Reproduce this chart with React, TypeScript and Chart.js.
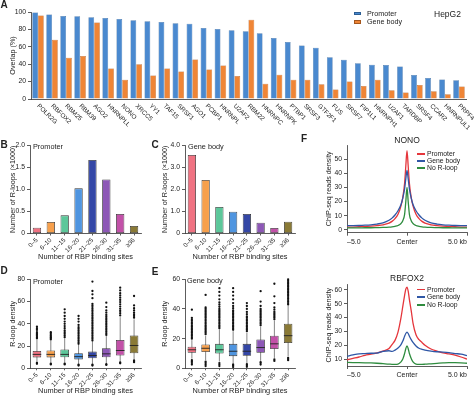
import React, { useEffect, useRef } from 'react';
import { Chart, registerables } from 'chart.js';

Chart.register(...registerables);

const FONT = '"Liberation Sans", Arial, Helvetica, sans-serif';
const INK = '#222222';
const AXIS = '#333333';
Chart.defaults.font.family = FONT;
Chart.defaults.color = INK;

// ---------- Panel A ----------
const rbpNames = ['POLR2G', 'RBFOX2', 'RBM25', 'RBM39', 'AGO2', 'HNRNPLL', 'NONO', 'XRCC5', 'YY1', 'TAF15', 'SRSF1', 'AGO1', 'PCBP1', 'HNRNPL', 'U2AF2', 'RBM22', 'HNRNPC', 'HNRNPK', 'PTBP1', 'SRSF3', 'GTF2F1', 'FUS', 'SRSF7', 'FIP1L1', 'HNRNPH1', 'U2AF1', 'TARDBP', 'SRSF4', 'CCAR2', 'HNRNPUL1', 'PRPF4'];
const overlapPromoter = [99.5, 97, 95.5, 95, 94, 93, 92, 90.5, 89.5, 88.5, 87, 86.5, 81.5, 80.5, 79, 78, 75.5, 70, 65.5, 61.5, 59, 48, 45, 41, 39.5, 39, 37.5, 27.5, 24, 22.5, 21.5];
const overlapGeneBody = [96, 68, 47.5, 49.5, 88, 35, 22, 40, 27, 35, 31.5, 45.5, 34, 38.5, 26.5, 91, 17.5, 28, 22, 22, 17, 11, 20, 15, 22, 10, 7.5, 16, 9, 5.5, 14.5];
const overlapTicks = [0, 20, 40, 60, 80, 100];

// ---------- Panels B/C ----------
const siteBins = ['0–5', '6–10', '11–15', '16–20', '21–25', '26–30', '31–35', '≥36'];
const rloopPromoter = [0.13, 0.26, 0.41, 1.02, 1.66, 1.22, 0.44, 0.17];
const rloopGeneBody = [3.55, 2.42, 1.2, 0.98, 0.88, 0.49, 0.25, 0.53];
const binColors = ['#f07282', '#f7a04c', '#5cc79a', '#4f95e0', '#3447a6', '#8d58b6', '#c251a8', '#8a7a36'];

// ---------- Panel D (promoter density boxes) ----------
const promQ1 = [9.8, 9.8, 10, 8, 9, 10, 11.5, 13.5];
const promMedian = [12.5, 12.5, 12.5, 10.5, 11.5, 13, 16, 20.5];
const promQ3 = [15.5, 16, 17, 13.5, 15, 18, 25.5, 29.5];
const promWhiskerLow = [5.5, 5, 5, 4, 4, 4.5, 6, 8];
const promWhiskerHigh = [26, 25, 27, 21, 24, 29, 46, 44];
const promOutliers = [
  [4, 4.8, 27, 28, 29, 30, 31, 32.5, 34.5, 36, 37.5],
  [3.5, 4.2, 26, 27, 28, 29, 30, 31.5, 32.5],
  [3.5, 4.2, 28, 29.5, 31, 32.5, 34, 36, 38, 40, 42, 44.5, 47, 50, 53],
  [2.5, 3.2, 22, 23.5, 25, 26.5, 28, 29.5, 31, 32.5, 34, 35.5, 37, 39, 42, 44.5, 47],
  [2.5, 3.2, 25, 26.5, 28, 29.5, 31, 32.5, 34, 35.5, 37, 38.5, 40, 41.5, 43, 44.5, 46, 47.5, 49, 50.5, 52, 53.5, 55, 56.5, 58, 63, 66.5, 69.5, 78],
  [3, 3.7, 30, 31.5, 33, 34.5, 36, 37.5, 39, 40.5, 42, 43.5, 45, 46.5, 48, 50, 52, 55, 59],
  [4.5, 5.2, 47.5, 49.5, 51.5, 53.5, 55.5, 57.5, 59.5, 61.5, 63.5, 65.5, 67.5, 70, 72.5],
  [5.5, 6.3, 7, 45.5, 47, 48.5, 50, 52, 54, 56.5, 65],
];

// ---------- Panel E (gene body density boxes) ----------
const geneQ1 = [10.5, 11, 10, 8.2, 8.5, 10.5, 13, 17];
const geneMedian = [12.5, 13.5, 12.5, 11.5, 11.5, 14, 16.5, 22];
const geneQ3 = [14.5, 16, 16.5, 16.5, 16.5, 19.5, 22, 30];
const geneWhiskerLow = [6.5, 5.5, 4.5, 3.5, 3.5, 5, 7, 8];
const geneWhiskerHigh = [19, 22, 26, 25, 24, 28, 32, 42];
const geneOutliers = [
  [2.5, 3.5, 4.5, 5.5, 20, 21, 22, 23, 24, 25, 26, 27, 28, 29, 30, 31, 32, 33, 34, 39.5],
  [1.5, 2.5, 3.5, 4.5, 23, 24, 25, 26, 27, 28, 29, 30, 31, 32, 33, 34, 35, 36, 37, 38, 39, 40, 41, 49.5],
  [1.5, 2.5, 3.5, 27, 28, 29, 30, 31, 32, 33, 34, 35, 36, 37, 38, 39, 40, 41.5, 43, 44.5, 46.5, 49, 51.5, 54],
  [0.8, 1.8, 2.6, 26, 27, 28, 29, 30, 31, 32, 33, 34, 35, 36, 37, 38, 39, 40.5, 42, 44, 46.5, 49, 51.5, 54],
  [1, 2, 2.8, 25, 26, 27, 28, 29, 30, 31, 32, 33, 34, 35, 36.5, 38, 40, 42, 44],
  [2.5, 3.5, 4.2, 29, 30, 31, 32, 33, 34, 35, 36, 37, 38, 39, 40, 42, 45, 52],
  [5, 6, 33, 34, 35, 36, 37, 38, 39.5, 41, 44, 48.5, 57],
  [5.5, 6.2, 7, 43, 44, 45, 46, 47, 48, 49, 50, 51, 52, 53, 54, 55, 56, 57, 58, 59, 60],
];

// ---------- Panel F (ChIP-seq profiles) ----------
const profileX = [-5, -4.5, -4, -3.5, -3, -2.5, -2, -1.5, -1.25, -1, -0.75, -0.5, -0.35, -0.2, -0.1, 0, 0.1, 0.2, 0.35, 0.5, 0.75, 1, 1.25, 1.5, 2, 2.5, 3, 3.5, 4, 4.5, 5];
const nonoPromoter = [2, 2, 2.2, 2.3, 2.6, 3, 3.6, 4.8, 6, 8, 11, 17, 23, 33, 45, 56, 45, 33, 23, 17, 11, 8, 6, 4.8, 3.6, 3, 2.6, 2.3, 2.2, 2, 2];
const nonoGeneBody = [3, 3, 3.1, 3.3, 3.6, 4.1, 5, 6.8, 8.3, 10.5, 13.5, 18, 22.5, 29, 36, 42, 36, 29, 22.5, 18, 13.5, 10.5, 8.3, 6.8, 5, 4.1, 3.6, 3.3, 3.1, 3, 3];
const nonoNoRloop = [1.4, 1.4, 1.4, 1.5, 1.5, 1.6, 1.7, 1.9, 2.1, 2.5, 3.1, 4.5, 6.5, 11, 20, 30, 20, 11, 6.5, 4.5, 3.1, 2.5, 2.1, 1.9, 1.7, 1.6, 1.5, 1.5, 1.4, 1.4, 1.4];
const rbfoxPromoter = [9.5, 10.5, 11.5, 12.7, 13.5, 14.5, 15.7, 17.6, 20.5, 23.5, 29.5, 40, 48, 56, 60.5, 62, 59, 53, 45, 36, 27.5, 24, 22, 20, 17.3, 15.8, 14.5, 13.7, 12.8, 11.5, 10];
const rbfoxGeneBody = [12, 13, 13.8, 14, 14.2, 14.3, 15.5, 16, 15.5, 16.5, 18, 20.5, 23, 26.5, 28.5, 29.5, 28.5, 26.5, 24, 22, 19.5, 17.8, 17, 16.5, 15.8, 15.3, 15, 14.6, 14, 13.6, 12.5];
const rbfoxNoRloop = [7.6, 7.5, 7.4, 7.3, 7.2, 7, 6.7, 6.4, 6.2, 6.2, 6.4, 8, 10, 14, 17.5, 19.5, 17.5, 14, 10.5, 8, 6.4, 6.2, 6.2, 6.3, 6.6, 6.9, 7.2, 7.4, 7.4, 7.3, 7];
const nonoTicks = [0, 10, 20, 30, 40, 50];
const rbfoxTicks = [10, 20, 30, 40, 50, 60];

const BLUE = '#4a89cf';
const ORANGE = '#ef8536';
const RED = '#e5363c';
const NAVY = '#2f57a6';
const GREEN = '#2f8c3f';

// ---------- helpers ----------
const tickFont = { family: FONT, size: 6.8 };

const yAxis = (extra: any, title: string, titlePad: number, width: number) => ({
  border: { display: true, color: AXIS, width: 0.8 },
  grid: { display: true, drawOnChartArea: false, drawTicks: true, tickLength: 3, color: AXIS, lineWidth: 0.8 },
  ticks: { color: INK, font: tickFont, padding: 2 },
  title: { display: true, text: title, color: INK, font: { family: FONT, size: 7.2 }, padding: { top: titlePad, bottom: 0 } },
  afterFit: (s: any) => { s.width = width; },
  ...extra,
});

const catXAxis = (title: string | null, height: number, titlePadBottom: number) => ({
  border: { display: true, color: AXIS, width: 0.8 },
  grid: { display: true, drawOnChartArea: false, drawTicks: true, tickLength: 2, offset: false, color: AXIS, lineWidth: 0.8 },
  ticks: { color: INK, font: { family: FONT, size: 6.3 }, minRotation: 45, maxRotation: 45, padding: 1, autoSkip: false },
  title: title
    ? { display: true, text: title, color: INK, font: { family: FONT, size: 7.4 }, padding: { top: 0, bottom: titlePadBottom } }
    : { display: false },
  afterFit: (s: any) => { s.height = height; },
});

const rotatedLabelsPlugin = {
  id: 'rotatedLabels',
  afterDraw(chart: any) {
    const xs = chart.scales.x;
    const labels: string[] = chart.data.labels;
    const ctx = chart.ctx;
    ctx.save();
    ctx.fillStyle = INK;
    ctx.font = `6.3px ${FONT}`;
    ctx.textAlign = 'left';
    ctx.textBaseline = 'middle';
    labels.forEach((lab, i) => {
      const x = xs.getPixelForValue(i);
      ctx.save();
      ctx.translate(x, chart.chartArea.bottom + 6);
      ctx.rotate(Math.PI / 4);
      ctx.fillText(lab, 0, 0);
      ctx.restore();
    });
    ctx.restore();
  },
};

function boxWhiskerPlugin(median: number[], low: number[], high: number[]) {
  return {
    id: 'boxWhisker',
    beforeDatasetsDraw(chart: any) {
      const { ctx } = chart;
      const xs = chart.scales.x;
      const ys = chart.scales.y;
      ctx.save();
      ctx.strokeStyle = '#666';
      ctx.lineWidth = 0.8;
      low.forEach((l, i) => {
        const x = xs.getPixelForValue(i);
        ctx.beginPath();
        ctx.moveTo(x, ys.getPixelForValue(l));
        ctx.lineTo(x, ys.getPixelForValue(high[i]));
        ctx.stroke();
      });
      ctx.restore();
    },
    afterDatasetsDraw(chart: any) {
      const { ctx } = chart;
      const ys = chart.scales.y;
      const meta = chart.getDatasetMeta(0);
      ctx.save();
      ctx.strokeStyle = '#222';
      ctx.lineWidth = 0.9;
      meta.data.forEach((el: any, i: number) => {
        const { x, width } = el.getProps(['x', 'width'], true);
        const y = ys.getPixelForValue(median[i]);
        ctx.beginPath();
        ctx.moveTo(x - width / 2, y);
        ctx.lineTo(x + width / 2, y);
        ctx.stroke();
      });
      ctx.restore();
    },
  };
}

const baseOptions = (padding: any) => ({
  responsive: false,
  animation: false as const,
  devicePixelRatio: 1,
  layout: { padding },
  plugins: { legend: { display: false }, tooltip: { enabled: false }, title: { display: false } },
});

// ---------- chart configs ----------
function makeA(): any {
  return {
    type: 'bar',
    data: {
      labels: rbpNames,
      datasets: [
        { label: 'Promoter', data: overlapPromoter, backgroundColor: BLUE, borderColor: '#2c5e94', borderWidth: 0.5 },
        { label: 'Gene body', data: overlapGeneBody, backgroundColor: ORANGE, borderColor: '#a4561c', borderWidth: 0.5 },
      ],
    },
    options: {
      ...baseOptions({ left: 0, top: 12, right: 8, bottom: 0 }),
      datasets: { bar: { categoryPercentage: 0.82, barPercentage: 1 } },
      scales: {
        x: {
          border: { display: true, color: AXIS, width: 0.8 },
          grid: { display: false },
          ticks: { display: false },
          afterFit: (s: any) => { s.height = 33; },
        },
        y: yAxis({
          min: 0, max: 100,
          afterBuildTicks: (s: any) => { s.ticks = overlapTicks.map((v) => ({ value: v })); },
        }, 'Overlap (%)', 8.6, 31),
      },
    },
    plugins: [rotatedLabelsPlugin],
  };
}

function makeCount(values: number[], max: number, step: number, yWidth: number, yPad: number): any {
  const ticks: number[] = [];
  for (let v = 0; v <= max + 1e-9; v += step) ticks.push(Math.round(v * 10) / 10);
  return {
    type: 'bar',
    data: {
      labels: siteBins,
      datasets: [{ data: values, backgroundColor: binColors, borderColor: '#333', borderWidth: 0.8, borderSkipped: false }],
    },
    options: {
      ...baseOptions({ left: 0, top: 10, right: yWidth === 30 ? 9 : 10, bottom: 0 }),
      datasets: { bar: { categoryPercentage: 1, barPercentage: 0.6 } },
      scales: {
        x: catXAxis('Number of RBP binding sites', 28.5, 0.6),
        y: yAxis({
          min: 0, max,
          afterBuildTicks: (s: any) => { s.ticks = ticks.map((v) => ({ value: v })); },
          ticks: { color: INK, font: tickFont, padding: 2, callback: (v: any) => (v === 0 ? '0' : Number(v).toFixed(1)) },
        }, 'Number of R-loops (×1000)', yPad, yWidth),
      },
    },
  };
}

function makeBox(q1: number[], med: number[], q3: number[], lo: number[], hi: number[], outliers: number[][], max: number, yWidth: number, yPad: number): any {
  const ticks: number[] = [];
  for (let v = 0; v <= max; v += 20) ticks.push(v);
  const outlierPoints: any[] = [];
  outliers.forEach((list, i) => list.forEach((y) => outlierPoints.push({ x: siteBins[i], y })));
  return {
    type: 'bar',
    data: {
      labels: siteBins,
      datasets: [
        {
          type: 'bar',
          data: q1.map((a, i) => [a, q3[i]]),
          backgroundColor: binColors,
          borderColor: '#333',
          borderWidth: 0.8,
          borderSkipped: false,
          order: 2,
        },
        {
          type: 'line',
          data: outlierPoints,
          showLine: false,
          pointRadius: 1.15,
          pointBorderWidth: 0,
          pointBackgroundColor: '#111',
          borderColor: '#111',
          clip: false,
          order: 1,
        },
      ],
    },
    options: {
      ...baseOptions({ left: 0, top: 17.3, right: yWidth === 30 ? 9 : 10, bottom: 0 }),
      datasets: { bar: { categoryPercentage: 1, barPercentage: 0.62 } },
      scales: {
        x: catXAxis('Number of RBP binding sites', 27.7, 0.2),
        y: yAxis({
          min: 0, max,
          afterBuildTicks: (s: any) => { s.ticks = ticks.map((v) => ({ value: v })); },
        }, 'R-loop density', yPad, yWidth),
      },
    },
    plugins: [boxWhiskerPlugin(med, lo, hi)],
  };
}

function makeProfile(series: number[][], yMin: number, yMax: number, yTicks: number[], topPad: number, xHeight: number): any {
  const colors = [RED, NAVY, GREEN];
  const names = ['Promoter', 'Gene body', 'No R-loop'];
  return {
    type: 'line',
    data: {
      datasets: series.map((vals, k) => ({
        label: names[k],
        data: profileX.map((x, i) => ({ x, y: vals[i] })),
        borderColor: colors[k],
        borderWidth: 1.3,
        pointRadius: 0,
        cubicInterpolationMode: 'monotone',
        fill: false,
        order: 3 - k,
      })),
    },
    options: {
      ...baseOptions({ left: 0, top: topPad, right: 7, bottom: 0 }),
      scales: {
        x: {
          type: 'linear',
          min: -5, max: 5,
          border: { display: true, color: AXIS, width: 0.8 },
          grid: { display: true, drawOnChartArea: false, drawTicks: true, tickLength: 3, color: AXIS, lineWidth: 0.8 },
          afterBuildTicks: (s: any) => { s.ticks = [{ value: -5 }, { value: 0 }, { value: 5 }]; },
          ticks: {
            color: INK, font: { family: FONT, size: 7 }, padding: 2, align: 'inner', maxRotation: 0,
            callback: (v: any) => (v === 0 ? 'Center' : v > 0 ? '5.0 kb' : '–5.0'),
          },
          afterFit: (s: any) => { s.height = xHeight; },
        },
        y: yAxis({
          min: yMin, max: yMax,
          afterBuildTicks: (s: any) => { s.ticks = yTicks.map((v) => ({ value: v })); },
        }, 'ChIP-seq reads density', 19.9, 42),
      },
    },
  };
}

// ---------- components ----------
function ChartPanel({ left, top, width, height, make }: { left: number; top: number; width: number; height: number; make: () => any }) {
  const ref = useRef<HTMLCanvasElement | null>(null);
  useEffect(() => {
    const chart = new Chart(ref.current as HTMLCanvasElement, make());
    return () => chart.destroy();
  }, []);
  return (
    <canvas
      ref={ref}
      width={width}
      height={height}
      style={{ position: 'absolute', left, top, width, height, display: 'block' }}
    />
  );
}

function Txt({ x, y, size, bold, center, children }: { x: number; y: number; size: number; bold?: boolean; center?: boolean; children: React.ReactNode }) {
  return (
    <div
      style={{
        position: 'absolute', left: x, top: y, fontSize: size, lineHeight: 1, whiteSpace: 'nowrap',
        fontWeight: bold ? 'bold' : 'normal', color: INK, fontFamily: FONT,
        transform: center ? 'translate(-50%, -50%)' : 'translateY(-50%)',
      }}
    >
      {children}
    </div>
  );
}

function Swatch({ x, y, w, h, color, border }: { x: number; y: number; w: number; h: number; color: string; border?: string }) {
  return (
    <div style={{ position: 'absolute', left: x, top: y - h / 2, width: w, height: h, background: color, boxSizing: 'border-box', border: border ? `0.5px solid ${border}` : 'none' }} />
  );
}

function ProfileLegend({ x, y, gap }: { x: number; y: number; gap: number }) {
  const items = [['Promoter', RED], ['Gene body', NAVY], ['No R-loop', GREEN]];
  return (
    <>
      {items.map(([name, c], i) => (
        <React.Fragment key={name}>
          <Swatch x={x} y={y + i * gap} w={8} h={1.6} color={c} />
          <Txt x={x + 10} y={y + i * gap} size={6.8}>{name}</Txt>
        </React.Fragment>
      ))}
    </>
  );
}

export default function App() {
  return (
    <div style={{ position: 'fixed', left: 0, top: 0, width: 474, height: 396, background: '#fff', overflow: 'hidden', fontFamily: FONT }}>
      <ChartPanel left={0} top={0} width={474} height={132} make={makeA} />
      <ChartPanel left={0} top={135} width={150} height={127} make={() => makeCount(rloopPromoter, 2, 0.5, 30, 8.9)} />
      <ChartPanel left={150} top={135} width={155} height={127} make={() => makeCount(rloopGeneBody, 4, 1, 35, 10.9)} />
      <ChartPanel left={0} top={262} width={150} height={134} make={() => makeBox(promQ1, promMedian, promQ3, promWhiskerLow, promWhiskerHigh, promOutliers, 80, 30, 9.2)} />
      <ChartPanel left={150} top={262} width={155} height={134} make={() => makeBox(geneQ1, geneMedian, geneQ3, geneWhiskerLow, geneWhiskerHigh, geneOutliers, 60, 35, 10.9)} />
      <ChartPanel left={305} top={132} width={169} height={118} make={() => makeProfile([nonoPromoter, nonoGeneBody, nonoNoRloop], -2, 60, nonoTicks, 13, 17.3)} />
      <ChartPanel left={305} top={255} width={169} height={141} make={() => makeProfile([rbfoxPromoter, rbfoxGeneBody, rbfoxNoRloop], 5, 64, rbfoxTicks, 29.3, 30)} />

      {/* panel letters */}
      <Txt x={4} y={5} size={10} bold center>A</Txt>
      <Txt x={4} y={145} size={10} bold center>B</Txt>
      <Txt x={155} y={145} size={10} bold center>C</Txt>
      <Txt x={4} y={271} size={10} bold center>D</Txt>
      <Txt x={155} y={272} size={10} bold center>E</Txt>
      <Txt x={304} y={139} size={10} bold center>F</Txt>

      {/* panel A legend */}
      <Swatch x={354} y={13.7} w={7} h={3.6} color={BLUE} border="#2c5e94" />
      <Txt x={367} y={13.5} size={7.2}>Promoter</Txt>
      <Swatch x={354} y={22} w={7} h={3.6} color={ORANGE} border="#a4561c" />
      <Txt x={367} y={22} size={7.2}>Gene body</Txt>
      <Txt x={434} y={14} size={8.5}>HepG2</Txt>

      {/* in-panel captions */}
      <Txt x={33} y={147} size={7.3}>Promoter</Txt>
      <Txt x={188} y={147} size={7.3}>Gene body</Txt>
      <Txt x={33} y={282} size={7.3}>Promoter</Txt>
      <Txt x={187} y={281} size={7.3}>Gene body</Txt>

      {/* panel F titles & legends */}
      <Txt x={407} y={140} size={8.5} center>NONO</Txt>
      <ProfileLegend x={417} y={154} gap={7} />
      <Txt x={407} y={278} size={8.5} center>RBFOX2</Txt>
      <ProfileLegend x={417} y={289.5} gap={7.7} />
    </div>
  );
}
